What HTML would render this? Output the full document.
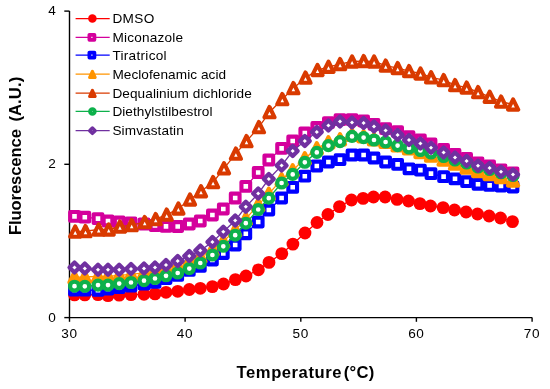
<!DOCTYPE html>
<html lang="en"><head><meta charset="utf-8"><title>Fluorescence vs Temperature</title>
<style>html,body{margin:0;padding:0;background:#fff}svg{display:block}</style></head>
<body><svg width="550" height="389" viewBox="0 0 550 389">
<rect width="550" height="389" fill="#fff"/>
<g stroke="#000" stroke-width="1.4" fill="none">
<path d="M69.5 11V317.6H532.1"/>
<path d="M64.3 11.1H69.5"/>
<path d="M64.3 164.3H69.5"/>
<path d="M64.3 317.6H69.5"/>
<path d="M69.5 317.6V321.8"/>
<path d="M185.1 317.6V321.8"/>
<path d="M300.8 317.6V321.8"/>
<path d="M416.4 317.6V321.8"/>
<path d="M532.1 317.6V321.8"/>
</g>
<g>
<polyline fill="none" stroke="#FF0000" stroke-width="1.30" points="74.5,294.9 84.8,294.9 98.0,294.7 108.0,295.7 119.2,295.1 131.0,294.7 144.0,294.3 155.0,293.9 166.0,292.3 177.7,291.3 189.3,289.5 200.3,288.3 212.4,286.6 223.5,284.0 235.4,279.6 246.0,276.0 258.4,269.8 269.0,262.4 281.8,253.6 292.9,244.1 305.0,233.0 317.0,222.5 327.9,214.5 339.5,206.6 351.5,200.0 363.1,198.4 373.5,197.0 385.1,197.0 397.1,199.4 408.5,201.0 419.9,203.6 430.5,206.0 443.1,207.6 454.5,210.0 466.1,212.0 477.5,214.0 489.1,216.0 500.5,218.0 512.5,221.6"/>
<circle cx="74.5" cy="294.9" r="6.40" fill="#FF0000"/>
<circle cx="84.8" cy="294.9" r="6.40" fill="#FF0000"/>
<circle cx="98.0" cy="294.7" r="6.40" fill="#FF0000"/>
<circle cx="108.0" cy="295.7" r="6.40" fill="#FF0000"/>
<circle cx="119.2" cy="295.1" r="6.40" fill="#FF0000"/>
<circle cx="131.0" cy="294.7" r="6.40" fill="#FF0000"/>
<circle cx="144.0" cy="294.3" r="6.40" fill="#FF0000"/>
<circle cx="155.0" cy="293.9" r="6.40" fill="#FF0000"/>
<circle cx="166.0" cy="292.3" r="6.40" fill="#FF0000"/>
<circle cx="177.7" cy="291.3" r="6.40" fill="#FF0000"/>
<circle cx="189.3" cy="289.5" r="6.40" fill="#FF0000"/>
<circle cx="200.3" cy="288.3" r="6.40" fill="#FF0000"/>
<circle cx="212.4" cy="286.6" r="6.40" fill="#FF0000"/>
<circle cx="223.5" cy="284.0" r="6.40" fill="#FF0000"/>
<circle cx="235.4" cy="279.6" r="6.40" fill="#FF0000"/>
<circle cx="246.0" cy="276.0" r="6.40" fill="#FF0000"/>
<circle cx="258.4" cy="269.8" r="6.40" fill="#FF0000"/>
<circle cx="269.0" cy="262.4" r="6.40" fill="#FF0000"/>
<circle cx="281.8" cy="253.6" r="6.40" fill="#FF0000"/>
<circle cx="292.9" cy="244.1" r="6.40" fill="#FF0000"/>
<circle cx="305.0" cy="233.0" r="6.40" fill="#FF0000"/>
<circle cx="317.0" cy="222.5" r="6.40" fill="#FF0000"/>
<circle cx="327.9" cy="214.5" r="6.40" fill="#FF0000"/>
<circle cx="339.5" cy="206.6" r="6.40" fill="#FF0000"/>
<circle cx="351.5" cy="200.0" r="6.40" fill="#FF0000"/>
<circle cx="363.1" cy="198.4" r="6.40" fill="#FF0000"/>
<circle cx="373.5" cy="197.0" r="6.40" fill="#FF0000"/>
<circle cx="385.1" cy="197.0" r="6.40" fill="#FF0000"/>
<circle cx="397.1" cy="199.4" r="6.40" fill="#FF0000"/>
<circle cx="408.5" cy="201.0" r="6.40" fill="#FF0000"/>
<circle cx="419.9" cy="203.6" r="6.40" fill="#FF0000"/>
<circle cx="430.5" cy="206.0" r="6.40" fill="#FF0000"/>
<circle cx="443.1" cy="207.6" r="6.40" fill="#FF0000"/>
<circle cx="454.5" cy="210.0" r="6.40" fill="#FF0000"/>
<circle cx="466.1" cy="212.0" r="6.40" fill="#FF0000"/>
<circle cx="477.5" cy="214.0" r="6.40" fill="#FF0000"/>
<circle cx="489.1" cy="216.0" r="6.40" fill="#FF0000"/>
<circle cx="500.5" cy="218.0" r="6.40" fill="#FF0000"/>
<circle cx="512.5" cy="221.6" r="6.40" fill="#FF0000"/>
<polyline fill="none" stroke="#D4009C" stroke-width="1.30" points="74.5,216.4 84.8,217.2 98.0,218.6 108.0,221.0 119.2,222.0 131.0,223.0 144.0,224.0 155.0,225.5 166.0,226.4 177.7,226.5 189.3,224.0 200.3,221.0 212.4,215.0 223.3,209.0 235.2,198.0 245.8,186.4 258.2,172.5 268.8,160.0 281.6,148.4 292.7,141.0 304.8,133.0 316.8,127.5 328.4,122.7 340.0,119.7 352.0,119.7 363.6,121.0 374.0,124.3 385.6,128.7 397.6,131.7 409.0,136.7 420.4,140.0 431.0,144.0 443.6,149.5 455.0,154.5 466.6,158.5 478.0,163.0 489.6,166.0 501.0,170.0 513.0,173.0"/>
<rect x="70.15" y="212.05" width="8.70" height="8.70" fill="#fff" stroke="#D4009C" stroke-width="4.10" stroke-linejoin="round"/>
<rect x="80.45" y="212.85" width="8.70" height="8.70" fill="#fff" stroke="#D4009C" stroke-width="4.10" stroke-linejoin="round"/>
<rect x="93.65" y="214.25" width="8.70" height="8.70" fill="#fff" stroke="#D4009C" stroke-width="4.10" stroke-linejoin="round"/>
<rect x="103.65" y="216.65" width="8.70" height="8.70" fill="#fff" stroke="#D4009C" stroke-width="4.10" stroke-linejoin="round"/>
<rect x="114.85" y="217.65" width="8.70" height="8.70" fill="#fff" stroke="#D4009C" stroke-width="4.10" stroke-linejoin="round"/>
<rect x="126.65" y="218.65" width="8.70" height="8.70" fill="#fff" stroke="#D4009C" stroke-width="4.10" stroke-linejoin="round"/>
<rect x="139.65" y="219.65" width="8.70" height="8.70" fill="#fff" stroke="#D4009C" stroke-width="4.10" stroke-linejoin="round"/>
<rect x="150.65" y="221.15" width="8.70" height="8.70" fill="#fff" stroke="#D4009C" stroke-width="4.10" stroke-linejoin="round"/>
<rect x="161.65" y="222.05" width="8.70" height="8.70" fill="#fff" stroke="#D4009C" stroke-width="4.10" stroke-linejoin="round"/>
<rect x="173.35" y="222.15" width="8.70" height="8.70" fill="#fff" stroke="#D4009C" stroke-width="4.10" stroke-linejoin="round"/>
<rect x="184.95" y="219.65" width="8.70" height="8.70" fill="#fff" stroke="#D4009C" stroke-width="4.10" stroke-linejoin="round"/>
<rect x="195.95" y="216.65" width="8.70" height="8.70" fill="#fff" stroke="#D4009C" stroke-width="4.10" stroke-linejoin="round"/>
<rect x="208.05" y="210.65" width="8.70" height="8.70" fill="#fff" stroke="#D4009C" stroke-width="4.10" stroke-linejoin="round"/>
<rect x="218.95" y="204.65" width="8.70" height="8.70" fill="#fff" stroke="#D4009C" stroke-width="4.10" stroke-linejoin="round"/>
<rect x="230.85" y="193.65" width="8.70" height="8.70" fill="#fff" stroke="#D4009C" stroke-width="4.10" stroke-linejoin="round"/>
<rect x="241.45" y="182.05" width="8.70" height="8.70" fill="#fff" stroke="#D4009C" stroke-width="4.10" stroke-linejoin="round"/>
<rect x="253.85" y="168.15" width="8.70" height="8.70" fill="#fff" stroke="#D4009C" stroke-width="4.10" stroke-linejoin="round"/>
<rect x="264.45" y="155.65" width="8.70" height="8.70" fill="#fff" stroke="#D4009C" stroke-width="4.10" stroke-linejoin="round"/>
<rect x="277.25" y="144.05" width="8.70" height="8.70" fill="#fff" stroke="#D4009C" stroke-width="4.10" stroke-linejoin="round"/>
<rect x="288.35" y="136.65" width="8.70" height="8.70" fill="#fff" stroke="#D4009C" stroke-width="4.10" stroke-linejoin="round"/>
<rect x="300.45" y="128.65" width="8.70" height="8.70" fill="#fff" stroke="#D4009C" stroke-width="4.10" stroke-linejoin="round"/>
<rect x="312.45" y="123.15" width="8.70" height="8.70" fill="#fff" stroke="#D4009C" stroke-width="4.10" stroke-linejoin="round"/>
<rect x="324.05" y="118.35" width="8.70" height="8.70" fill="#fff" stroke="#D4009C" stroke-width="4.10" stroke-linejoin="round"/>
<rect x="335.65" y="115.35" width="8.70" height="8.70" fill="#fff" stroke="#D4009C" stroke-width="4.10" stroke-linejoin="round"/>
<rect x="347.65" y="115.35" width="8.70" height="8.70" fill="#fff" stroke="#D4009C" stroke-width="4.10" stroke-linejoin="round"/>
<rect x="359.25" y="116.65" width="8.70" height="8.70" fill="#fff" stroke="#D4009C" stroke-width="4.10" stroke-linejoin="round"/>
<rect x="369.65" y="119.95" width="8.70" height="8.70" fill="#fff" stroke="#D4009C" stroke-width="4.10" stroke-linejoin="round"/>
<rect x="381.25" y="124.35" width="8.70" height="8.70" fill="#fff" stroke="#D4009C" stroke-width="4.10" stroke-linejoin="round"/>
<rect x="393.25" y="127.35" width="8.70" height="8.70" fill="#fff" stroke="#D4009C" stroke-width="4.10" stroke-linejoin="round"/>
<rect x="404.65" y="132.35" width="8.70" height="8.70" fill="#fff" stroke="#D4009C" stroke-width="4.10" stroke-linejoin="round"/>
<rect x="416.05" y="135.65" width="8.70" height="8.70" fill="#fff" stroke="#D4009C" stroke-width="4.10" stroke-linejoin="round"/>
<rect x="426.65" y="139.65" width="8.70" height="8.70" fill="#fff" stroke="#D4009C" stroke-width="4.10" stroke-linejoin="round"/>
<rect x="439.25" y="145.15" width="8.70" height="8.70" fill="#fff" stroke="#D4009C" stroke-width="4.10" stroke-linejoin="round"/>
<rect x="450.65" y="150.15" width="8.70" height="8.70" fill="#fff" stroke="#D4009C" stroke-width="4.10" stroke-linejoin="round"/>
<rect x="462.25" y="154.15" width="8.70" height="8.70" fill="#fff" stroke="#D4009C" stroke-width="4.10" stroke-linejoin="round"/>
<rect x="473.65" y="158.65" width="8.70" height="8.70" fill="#fff" stroke="#D4009C" stroke-width="4.10" stroke-linejoin="round"/>
<rect x="485.25" y="161.65" width="8.70" height="8.70" fill="#fff" stroke="#D4009C" stroke-width="4.10" stroke-linejoin="round"/>
<rect x="496.65" y="165.65" width="8.70" height="8.70" fill="#fff" stroke="#D4009C" stroke-width="4.10" stroke-linejoin="round"/>
<rect x="508.65" y="168.65" width="8.70" height="8.70" fill="#fff" stroke="#D4009C" stroke-width="4.10" stroke-linejoin="round"/>
<polyline fill="none" stroke="#0000FF" stroke-width="1.30" points="74.5,290.0 84.8,290.0 98.0,290.3 108.0,289.0 119.2,287.5 131.0,286.0 144.0,284.0 155.0,282.3 166.0,278.5 177.7,275.3 189.3,270.3 200.3,266.3 212.4,260.0 223.3,253.5 235.2,245.0 245.8,233.8 258.2,222.0 268.8,210.0 281.6,198.0 292.7,187.3 304.8,176.2 316.8,166.0 328.4,162.0 340.0,159.6 352.0,155.0 363.6,155.0 374.0,158.0 385.6,162.0 397.6,164.4 409.0,168.8 420.4,170.1 431.0,173.6 443.6,176.6 455.0,178.8 466.6,181.7 478.0,184.3 489.6,185.4 501.0,186.0 513.0,187.0"/>
<rect x="70.15" y="285.65" width="8.70" height="8.70" fill="#fff" stroke="#0000FF" stroke-width="4.10" stroke-linejoin="round"/>
<rect x="80.45" y="285.65" width="8.70" height="8.70" fill="#fff" stroke="#0000FF" stroke-width="4.10" stroke-linejoin="round"/>
<rect x="93.65" y="285.95" width="8.70" height="8.70" fill="#fff" stroke="#0000FF" stroke-width="4.10" stroke-linejoin="round"/>
<rect x="103.65" y="284.65" width="8.70" height="8.70" fill="#fff" stroke="#0000FF" stroke-width="4.10" stroke-linejoin="round"/>
<rect x="114.85" y="283.15" width="8.70" height="8.70" fill="#fff" stroke="#0000FF" stroke-width="4.10" stroke-linejoin="round"/>
<rect x="126.65" y="281.65" width="8.70" height="8.70" fill="#fff" stroke="#0000FF" stroke-width="4.10" stroke-linejoin="round"/>
<rect x="139.65" y="279.65" width="8.70" height="8.70" fill="#fff" stroke="#0000FF" stroke-width="4.10" stroke-linejoin="round"/>
<rect x="150.65" y="277.95" width="8.70" height="8.70" fill="#fff" stroke="#0000FF" stroke-width="4.10" stroke-linejoin="round"/>
<rect x="161.65" y="274.15" width="8.70" height="8.70" fill="#fff" stroke="#0000FF" stroke-width="4.10" stroke-linejoin="round"/>
<rect x="173.35" y="270.95" width="8.70" height="8.70" fill="#fff" stroke="#0000FF" stroke-width="4.10" stroke-linejoin="round"/>
<rect x="184.95" y="265.95" width="8.70" height="8.70" fill="#fff" stroke="#0000FF" stroke-width="4.10" stroke-linejoin="round"/>
<rect x="195.95" y="261.95" width="8.70" height="8.70" fill="#fff" stroke="#0000FF" stroke-width="4.10" stroke-linejoin="round"/>
<rect x="208.05" y="255.65" width="8.70" height="8.70" fill="#fff" stroke="#0000FF" stroke-width="4.10" stroke-linejoin="round"/>
<rect x="218.95" y="249.15" width="8.70" height="8.70" fill="#fff" stroke="#0000FF" stroke-width="4.10" stroke-linejoin="round"/>
<rect x="230.85" y="240.65" width="8.70" height="8.70" fill="#fff" stroke="#0000FF" stroke-width="4.10" stroke-linejoin="round"/>
<rect x="241.45" y="229.45" width="8.70" height="8.70" fill="#fff" stroke="#0000FF" stroke-width="4.10" stroke-linejoin="round"/>
<rect x="253.85" y="217.65" width="8.70" height="8.70" fill="#fff" stroke="#0000FF" stroke-width="4.10" stroke-linejoin="round"/>
<rect x="264.45" y="205.65" width="8.70" height="8.70" fill="#fff" stroke="#0000FF" stroke-width="4.10" stroke-linejoin="round"/>
<rect x="277.25" y="193.65" width="8.70" height="8.70" fill="#fff" stroke="#0000FF" stroke-width="4.10" stroke-linejoin="round"/>
<rect x="288.35" y="182.95" width="8.70" height="8.70" fill="#fff" stroke="#0000FF" stroke-width="4.10" stroke-linejoin="round"/>
<rect x="300.45" y="171.85" width="8.70" height="8.70" fill="#fff" stroke="#0000FF" stroke-width="4.10" stroke-linejoin="round"/>
<rect x="312.45" y="161.65" width="8.70" height="8.70" fill="#fff" stroke="#0000FF" stroke-width="4.10" stroke-linejoin="round"/>
<rect x="324.05" y="157.65" width="8.70" height="8.70" fill="#fff" stroke="#0000FF" stroke-width="4.10" stroke-linejoin="round"/>
<rect x="335.65" y="155.25" width="8.70" height="8.70" fill="#fff" stroke="#0000FF" stroke-width="4.10" stroke-linejoin="round"/>
<rect x="347.65" y="150.65" width="8.70" height="8.70" fill="#fff" stroke="#0000FF" stroke-width="4.10" stroke-linejoin="round"/>
<rect x="359.25" y="150.65" width="8.70" height="8.70" fill="#fff" stroke="#0000FF" stroke-width="4.10" stroke-linejoin="round"/>
<rect x="369.65" y="153.65" width="8.70" height="8.70" fill="#fff" stroke="#0000FF" stroke-width="4.10" stroke-linejoin="round"/>
<rect x="381.25" y="157.65" width="8.70" height="8.70" fill="#fff" stroke="#0000FF" stroke-width="4.10" stroke-linejoin="round"/>
<rect x="393.25" y="160.05" width="8.70" height="8.70" fill="#fff" stroke="#0000FF" stroke-width="4.10" stroke-linejoin="round"/>
<rect x="404.65" y="164.45" width="8.70" height="8.70" fill="#fff" stroke="#0000FF" stroke-width="4.10" stroke-linejoin="round"/>
<rect x="416.05" y="165.75" width="8.70" height="8.70" fill="#fff" stroke="#0000FF" stroke-width="4.10" stroke-linejoin="round"/>
<rect x="426.65" y="169.25" width="8.70" height="8.70" fill="#fff" stroke="#0000FF" stroke-width="4.10" stroke-linejoin="round"/>
<rect x="439.25" y="172.25" width="8.70" height="8.70" fill="#fff" stroke="#0000FF" stroke-width="4.10" stroke-linejoin="round"/>
<rect x="450.65" y="174.45" width="8.70" height="8.70" fill="#fff" stroke="#0000FF" stroke-width="4.10" stroke-linejoin="round"/>
<rect x="462.25" y="177.35" width="8.70" height="8.70" fill="#fff" stroke="#0000FF" stroke-width="4.10" stroke-linejoin="round"/>
<rect x="473.65" y="179.95" width="8.70" height="8.70" fill="#fff" stroke="#0000FF" stroke-width="4.10" stroke-linejoin="round"/>
<rect x="485.25" y="181.05" width="8.70" height="8.70" fill="#fff" stroke="#0000FF" stroke-width="4.10" stroke-linejoin="round"/>
<rect x="496.65" y="181.65" width="8.70" height="8.70" fill="#fff" stroke="#0000FF" stroke-width="4.10" stroke-linejoin="round"/>
<rect x="508.65" y="182.65" width="8.70" height="8.70" fill="#fff" stroke="#0000FF" stroke-width="4.10" stroke-linejoin="round"/>
<polyline fill="none" stroke="#FF9400" stroke-width="1.30" points="74.5,277.4 84.8,277.0 98.0,276.4 108.0,276.4 119.2,275.4 131.0,274.4 144.0,272.9 155.0,270.9 166.0,268.4 177.7,265.4 189.3,261.4 200.3,256.4 212.4,249.4 223.3,241.4 235.2,230.4 245.8,218.9 258.2,204.9 268.8,193.9 281.6,179.4 292.7,170.4 304.8,158.4 316.8,148.4 328.4,142.4 340.0,139.4 352.0,134.9 363.6,136.4 374.0,139.4 385.6,141.9 397.6,145.4 409.0,148.4 420.4,152.0 431.0,155.6 443.6,159.7 455.0,163.7 466.6,167.5 478.0,171.0 489.6,174.0 501.0,177.0 513.0,180.5"/>
<path d="M74.50 272.20L79.60 282.50L69.40 282.50Z" fill="#FF9400" stroke="#FF9400" stroke-width="4.10" stroke-linejoin="round"/>
<path d="M84.80 271.80L89.90 282.10L79.70 282.10Z" fill="#FF9400" stroke="#FF9400" stroke-width="4.10" stroke-linejoin="round"/>
<path d="M98.00 271.20L103.10 281.50L92.90 281.50Z" fill="#FF9400" stroke="#FF9400" stroke-width="4.10" stroke-linejoin="round"/>
<path d="M108.00 271.20L113.10 281.50L102.90 281.50Z" fill="#FF9400" stroke="#FF9400" stroke-width="4.10" stroke-linejoin="round"/>
<path d="M119.20 270.20L124.30 280.50L114.10 280.50Z" fill="#FF9400" stroke="#FF9400" stroke-width="4.10" stroke-linejoin="round"/>
<path d="M131.00 269.20L136.10 279.50L125.90 279.50Z" fill="#FF9400" stroke="#FF9400" stroke-width="4.10" stroke-linejoin="round"/>
<path d="M144.00 267.70L149.10 278.00L138.90 278.00Z" fill="#FF9400" stroke="#FF9400" stroke-width="4.10" stroke-linejoin="round"/>
<path d="M155.00 265.70L160.10 276.00L149.90 276.00Z" fill="#FF9400" stroke="#FF9400" stroke-width="4.10" stroke-linejoin="round"/>
<path d="M166.00 263.20L171.10 273.50L160.90 273.50Z" fill="#FF9400" stroke="#FF9400" stroke-width="4.10" stroke-linejoin="round"/>
<path d="M177.70 260.20L182.80 270.50L172.60 270.50Z" fill="#FF9400" stroke="#FF9400" stroke-width="4.10" stroke-linejoin="round"/>
<path d="M189.30 256.20L194.40 266.50L184.20 266.50Z" fill="#FF9400" stroke="#FF9400" stroke-width="4.10" stroke-linejoin="round"/>
<path d="M200.30 251.20L205.40 261.50L195.20 261.50Z" fill="#FF9400" stroke="#FF9400" stroke-width="4.10" stroke-linejoin="round"/>
<path d="M212.40 244.20L217.50 254.50L207.30 254.50Z" fill="#FF9400" stroke="#FF9400" stroke-width="4.10" stroke-linejoin="round"/>
<path d="M223.30 236.20L228.40 246.50L218.20 246.50Z" fill="#FF9400" stroke="#FF9400" stroke-width="4.10" stroke-linejoin="round"/>
<path d="M235.20 225.20L240.30 235.50L230.10 235.50Z" fill="#FF9400" stroke="#FF9400" stroke-width="4.10" stroke-linejoin="round"/>
<path d="M245.80 213.70L250.90 224.00L240.70 224.00Z" fill="#FF9400" stroke="#FF9400" stroke-width="4.10" stroke-linejoin="round"/>
<path d="M258.20 199.70L263.30 210.00L253.10 210.00Z" fill="#FF9400" stroke="#FF9400" stroke-width="4.10" stroke-linejoin="round"/>
<path d="M268.80 188.70L273.90 199.00L263.70 199.00Z" fill="#FF9400" stroke="#FF9400" stroke-width="4.10" stroke-linejoin="round"/>
<path d="M281.60 174.20L286.70 184.50L276.50 184.50Z" fill="#FF9400" stroke="#FF9400" stroke-width="4.10" stroke-linejoin="round"/>
<path d="M292.70 165.20L297.80 175.50L287.60 175.50Z" fill="#FF9400" stroke="#FF9400" stroke-width="4.10" stroke-linejoin="round"/>
<path d="M304.80 153.20L309.90 163.50L299.70 163.50Z" fill="#FF9400" stroke="#FF9400" stroke-width="4.10" stroke-linejoin="round"/>
<path d="M316.80 143.20L321.90 153.50L311.70 153.50Z" fill="#FF9400" stroke="#FF9400" stroke-width="4.10" stroke-linejoin="round"/>
<path d="M328.40 137.20L333.50 147.50L323.30 147.50Z" fill="#FF9400" stroke="#FF9400" stroke-width="4.10" stroke-linejoin="round"/>
<path d="M340.00 134.20L345.10 144.50L334.90 144.50Z" fill="#FF9400" stroke="#FF9400" stroke-width="4.10" stroke-linejoin="round"/>
<path d="M352.00 129.70L357.10 140.00L346.90 140.00Z" fill="#FF9400" stroke="#FF9400" stroke-width="4.10" stroke-linejoin="round"/>
<path d="M363.60 131.20L368.70 141.50L358.50 141.50Z" fill="#FF9400" stroke="#FF9400" stroke-width="4.10" stroke-linejoin="round"/>
<path d="M374.00 134.20L379.10 144.50L368.90 144.50Z" fill="#FF9400" stroke="#FF9400" stroke-width="4.10" stroke-linejoin="round"/>
<path d="M385.60 136.70L390.70 147.00L380.50 147.00Z" fill="#FF9400" stroke="#FF9400" stroke-width="4.10" stroke-linejoin="round"/>
<path d="M397.60 140.20L402.70 150.50L392.50 150.50Z" fill="#FF9400" stroke="#FF9400" stroke-width="4.10" stroke-linejoin="round"/>
<path d="M409.00 143.20L414.10 153.50L403.90 153.50Z" fill="#FF9400" stroke="#FF9400" stroke-width="4.10" stroke-linejoin="round"/>
<path d="M420.40 146.80L425.50 157.10L415.30 157.10Z" fill="#FF9400" stroke="#FF9400" stroke-width="4.10" stroke-linejoin="round"/>
<path d="M431.00 150.40L436.10 160.70L425.90 160.70Z" fill="#FF9400" stroke="#FF9400" stroke-width="4.10" stroke-linejoin="round"/>
<path d="M443.60 154.50L448.70 164.80L438.50 164.80Z" fill="#FF9400" stroke="#FF9400" stroke-width="4.10" stroke-linejoin="round"/>
<path d="M455.00 158.50L460.10 168.80L449.90 168.80Z" fill="#FF9400" stroke="#FF9400" stroke-width="4.10" stroke-linejoin="round"/>
<path d="M466.60 162.30L471.70 172.60L461.50 172.60Z" fill="#FF9400" stroke="#FF9400" stroke-width="4.10" stroke-linejoin="round"/>
<path d="M478.00 165.80L483.10 176.10L472.90 176.10Z" fill="#FF9400" stroke="#FF9400" stroke-width="4.10" stroke-linejoin="round"/>
<path d="M489.60 168.80L494.70 179.10L484.50 179.10Z" fill="#FF9400" stroke="#FF9400" stroke-width="4.10" stroke-linejoin="round"/>
<path d="M501.00 171.80L506.10 182.10L495.90 182.10Z" fill="#FF9400" stroke="#FF9400" stroke-width="4.10" stroke-linejoin="round"/>
<path d="M513.00 175.30L518.10 185.60L507.90 185.60Z" fill="#FF9400" stroke="#FF9400" stroke-width="4.10" stroke-linejoin="round"/>
<polyline fill="none" stroke="#D93A00" stroke-width="1.30" points="75.2,231.6 85.5,231.2 98.7,229.5 108.7,229.5 119.9,226.7 131.7,225.2 144.7,222.2 155.7,219.2 166.7,214.7 178.4,208.5 190.0,199.5 201.0,191.3 213.1,182.2 224.0,168.4 235.9,153.7 246.5,141.2 258.9,127.2 269.5,112.2 282.3,99.2 293.4,88.2 305.5,77.7 317.5,70.0 328.5,66.8 340.1,64.2 352.1,61.5 363.7,61.2 374.1,61.5 385.7,65.7 397.7,68.2 409.1,71.2 420.5,73.5 431.1,77.4 443.7,80.2 455.1,85.2 466.7,87.7 478.1,92.2 489.7,96.8 501.1,101.7 513.1,104.5"/>
<path d="M75.20 226.40L80.30 236.70L70.10 236.70Z" fill="#fff" stroke="#D93A00" stroke-width="4.10" stroke-linejoin="round"/>
<path d="M85.50 226.00L90.60 236.30L80.40 236.30Z" fill="#fff" stroke="#D93A00" stroke-width="4.10" stroke-linejoin="round"/>
<path d="M98.70 224.30L103.80 234.60L93.60 234.60Z" fill="#fff" stroke="#D93A00" stroke-width="4.10" stroke-linejoin="round"/>
<path d="M108.70 224.30L113.80 234.60L103.60 234.60Z" fill="#fff" stroke="#D93A00" stroke-width="4.10" stroke-linejoin="round"/>
<path d="M119.90 221.50L125.00 231.80L114.80 231.80Z" fill="#fff" stroke="#D93A00" stroke-width="4.10" stroke-linejoin="round"/>
<path d="M131.70 220.00L136.80 230.30L126.60 230.30Z" fill="#fff" stroke="#D93A00" stroke-width="4.10" stroke-linejoin="round"/>
<path d="M144.70 217.00L149.80 227.30L139.60 227.30Z" fill="#fff" stroke="#D93A00" stroke-width="4.10" stroke-linejoin="round"/>
<path d="M155.70 214.00L160.80 224.30L150.60 224.30Z" fill="#fff" stroke="#D93A00" stroke-width="4.10" stroke-linejoin="round"/>
<path d="M166.70 209.50L171.80 219.80L161.60 219.80Z" fill="#fff" stroke="#D93A00" stroke-width="4.10" stroke-linejoin="round"/>
<path d="M178.40 203.30L183.50 213.60L173.30 213.60Z" fill="#fff" stroke="#D93A00" stroke-width="4.10" stroke-linejoin="round"/>
<path d="M190.00 194.30L195.10 204.60L184.90 204.60Z" fill="#fff" stroke="#D93A00" stroke-width="4.10" stroke-linejoin="round"/>
<path d="M201.00 186.10L206.10 196.40L195.90 196.40Z" fill="#fff" stroke="#D93A00" stroke-width="4.10" stroke-linejoin="round"/>
<path d="M213.10 177.00L218.20 187.30L208.00 187.30Z" fill="#fff" stroke="#D93A00" stroke-width="4.10" stroke-linejoin="round"/>
<path d="M224.00 163.20L229.10 173.50L218.90 173.50Z" fill="#fff" stroke="#D93A00" stroke-width="4.10" stroke-linejoin="round"/>
<path d="M235.90 148.50L241.00 158.80L230.80 158.80Z" fill="#fff" stroke="#D93A00" stroke-width="4.10" stroke-linejoin="round"/>
<path d="M246.50 136.00L251.60 146.30L241.40 146.30Z" fill="#fff" stroke="#D93A00" stroke-width="4.10" stroke-linejoin="round"/>
<path d="M258.90 122.00L264.00 132.30L253.80 132.30Z" fill="#fff" stroke="#D93A00" stroke-width="4.10" stroke-linejoin="round"/>
<path d="M269.50 107.00L274.60 117.30L264.40 117.30Z" fill="#fff" stroke="#D93A00" stroke-width="4.10" stroke-linejoin="round"/>
<path d="M282.30 94.00L287.40 104.30L277.20 104.30Z" fill="#fff" stroke="#D93A00" stroke-width="4.10" stroke-linejoin="round"/>
<path d="M293.40 83.00L298.50 93.30L288.30 93.30Z" fill="#fff" stroke="#D93A00" stroke-width="4.10" stroke-linejoin="round"/>
<path d="M305.50 72.50L310.60 82.80L300.40 82.80Z" fill="#fff" stroke="#D93A00" stroke-width="4.10" stroke-linejoin="round"/>
<path d="M317.50 64.80L322.60 75.10L312.40 75.10Z" fill="#fff" stroke="#D93A00" stroke-width="4.10" stroke-linejoin="round"/>
<path d="M328.50 61.60L333.60 71.90L323.40 71.90Z" fill="#fff" stroke="#D93A00" stroke-width="4.10" stroke-linejoin="round"/>
<path d="M340.10 59.00L345.20 69.30L335.00 69.30Z" fill="#fff" stroke="#D93A00" stroke-width="4.10" stroke-linejoin="round"/>
<path d="M352.10 56.30L357.20 66.60L347.00 66.60Z" fill="#fff" stroke="#D93A00" stroke-width="4.10" stroke-linejoin="round"/>
<path d="M363.70 56.00L368.80 66.30L358.60 66.30Z" fill="#fff" stroke="#D93A00" stroke-width="4.10" stroke-linejoin="round"/>
<path d="M374.10 56.30L379.20 66.60L369.00 66.60Z" fill="#fff" stroke="#D93A00" stroke-width="4.10" stroke-linejoin="round"/>
<path d="M385.70 60.50L390.80 70.80L380.60 70.80Z" fill="#fff" stroke="#D93A00" stroke-width="4.10" stroke-linejoin="round"/>
<path d="M397.70 63.00L402.80 73.30L392.60 73.30Z" fill="#fff" stroke="#D93A00" stroke-width="4.10" stroke-linejoin="round"/>
<path d="M409.10 66.00L414.20 76.30L404.00 76.30Z" fill="#fff" stroke="#D93A00" stroke-width="4.10" stroke-linejoin="round"/>
<path d="M420.50 68.30L425.60 78.60L415.40 78.60Z" fill="#fff" stroke="#D93A00" stroke-width="4.10" stroke-linejoin="round"/>
<path d="M431.10 72.20L436.20 82.50L426.00 82.50Z" fill="#fff" stroke="#D93A00" stroke-width="4.10" stroke-linejoin="round"/>
<path d="M443.70 75.00L448.80 85.30L438.60 85.30Z" fill="#fff" stroke="#D93A00" stroke-width="4.10" stroke-linejoin="round"/>
<path d="M455.10 80.00L460.20 90.30L450.00 90.30Z" fill="#fff" stroke="#D93A00" stroke-width="4.10" stroke-linejoin="round"/>
<path d="M466.70 82.50L471.80 92.80L461.60 92.80Z" fill="#fff" stroke="#D93A00" stroke-width="4.10" stroke-linejoin="round"/>
<path d="M478.10 87.00L483.20 97.30L473.00 97.30Z" fill="#fff" stroke="#D93A00" stroke-width="4.10" stroke-linejoin="round"/>
<path d="M489.70 91.60L494.80 101.90L484.60 101.90Z" fill="#fff" stroke="#D93A00" stroke-width="4.10" stroke-linejoin="round"/>
<path d="M501.10 96.50L506.20 106.80L496.00 106.80Z" fill="#fff" stroke="#D93A00" stroke-width="4.10" stroke-linejoin="round"/>
<path d="M513.10 99.30L518.20 109.60L508.00 109.60Z" fill="#fff" stroke="#D93A00" stroke-width="4.10" stroke-linejoin="round"/>
<polyline fill="none" stroke="#0DB14B" stroke-width="1.30" points="74.5,286.2 84.8,286.3 98.0,285.1 108.0,285.1 119.2,283.6 131.0,282.5 144.0,280.7 155.0,278.5 166.0,275.8 177.7,273.0 189.3,268.6 200.3,263.0 212.4,255.0 223.3,246.3 235.2,235.2 245.8,223.2 258.2,209.5 268.8,198.2 281.6,183.0 292.7,174.4 304.8,162.3 316.8,152.4 328.4,145.6 340.0,141.6 352.0,136.4 363.6,137.6 374.0,140.0 385.6,142.0 397.6,145.6 409.0,148.0 420.4,150.5 431.0,153.0 443.6,156.5 455.0,160.0 466.6,163.0 478.0,167.0 489.6,169.5 501.0,172.8 513.0,175.5"/>
<circle cx="74.5" cy="286.2" r="4.45" fill="#fff" stroke="#0DB14B" stroke-width="4.20"/>
<circle cx="84.8" cy="286.3" r="4.45" fill="#fff" stroke="#0DB14B" stroke-width="4.20"/>
<circle cx="98.0" cy="285.1" r="4.45" fill="#fff" stroke="#0DB14B" stroke-width="4.20"/>
<circle cx="108.0" cy="285.1" r="4.45" fill="#fff" stroke="#0DB14B" stroke-width="4.20"/>
<circle cx="119.2" cy="283.6" r="4.45" fill="#fff" stroke="#0DB14B" stroke-width="4.20"/>
<circle cx="131.0" cy="282.5" r="4.45" fill="#fff" stroke="#0DB14B" stroke-width="4.20"/>
<circle cx="144.0" cy="280.7" r="4.45" fill="#fff" stroke="#0DB14B" stroke-width="4.20"/>
<circle cx="155.0" cy="278.5" r="4.45" fill="#fff" stroke="#0DB14B" stroke-width="4.20"/>
<circle cx="166.0" cy="275.8" r="4.45" fill="#fff" stroke="#0DB14B" stroke-width="4.20"/>
<circle cx="177.7" cy="273.0" r="4.45" fill="#fff" stroke="#0DB14B" stroke-width="4.20"/>
<circle cx="189.3" cy="268.6" r="4.45" fill="#fff" stroke="#0DB14B" stroke-width="4.20"/>
<circle cx="200.3" cy="263.0" r="4.45" fill="#fff" stroke="#0DB14B" stroke-width="4.20"/>
<circle cx="212.4" cy="255.0" r="4.45" fill="#fff" stroke="#0DB14B" stroke-width="4.20"/>
<circle cx="223.3" cy="246.3" r="4.45" fill="#fff" stroke="#0DB14B" stroke-width="4.20"/>
<circle cx="235.2" cy="235.2" r="4.45" fill="#fff" stroke="#0DB14B" stroke-width="4.20"/>
<circle cx="245.8" cy="223.2" r="4.45" fill="#fff" stroke="#0DB14B" stroke-width="4.20"/>
<circle cx="258.2" cy="209.5" r="4.45" fill="#fff" stroke="#0DB14B" stroke-width="4.20"/>
<circle cx="268.8" cy="198.2" r="4.45" fill="#fff" stroke="#0DB14B" stroke-width="4.20"/>
<circle cx="281.6" cy="183.0" r="4.45" fill="#fff" stroke="#0DB14B" stroke-width="4.20"/>
<circle cx="292.7" cy="174.4" r="4.45" fill="#fff" stroke="#0DB14B" stroke-width="4.20"/>
<circle cx="304.8" cy="162.3" r="4.45" fill="#fff" stroke="#0DB14B" stroke-width="4.20"/>
<circle cx="316.8" cy="152.4" r="4.45" fill="#fff" stroke="#0DB14B" stroke-width="4.20"/>
<circle cx="328.4" cy="145.6" r="4.45" fill="#fff" stroke="#0DB14B" stroke-width="4.20"/>
<circle cx="340.0" cy="141.6" r="4.45" fill="#fff" stroke="#0DB14B" stroke-width="4.20"/>
<circle cx="352.0" cy="136.4" r="4.45" fill="#fff" stroke="#0DB14B" stroke-width="4.20"/>
<circle cx="363.6" cy="137.6" r="4.45" fill="#fff" stroke="#0DB14B" stroke-width="4.20"/>
<circle cx="374.0" cy="140.0" r="4.45" fill="#fff" stroke="#0DB14B" stroke-width="4.20"/>
<circle cx="385.6" cy="142.0" r="4.45" fill="#fff" stroke="#0DB14B" stroke-width="4.20"/>
<circle cx="397.6" cy="145.6" r="4.45" fill="#fff" stroke="#0DB14B" stroke-width="4.20"/>
<circle cx="409.0" cy="148.0" r="4.45" fill="#fff" stroke="#0DB14B" stroke-width="4.20"/>
<circle cx="420.4" cy="150.5" r="4.45" fill="#fff" stroke="#0DB14B" stroke-width="4.20"/>
<circle cx="431.0" cy="153.0" r="4.45" fill="#fff" stroke="#0DB14B" stroke-width="4.20"/>
<circle cx="443.6" cy="156.5" r="4.45" fill="#fff" stroke="#0DB14B" stroke-width="4.20"/>
<circle cx="455.0" cy="160.0" r="4.45" fill="#fff" stroke="#0DB14B" stroke-width="4.20"/>
<circle cx="466.6" cy="163.0" r="4.45" fill="#fff" stroke="#0DB14B" stroke-width="4.20"/>
<circle cx="478.0" cy="167.0" r="4.45" fill="#fff" stroke="#0DB14B" stroke-width="4.20"/>
<circle cx="489.6" cy="169.5" r="4.45" fill="#fff" stroke="#0DB14B" stroke-width="4.20"/>
<circle cx="501.0" cy="172.8" r="4.45" fill="#fff" stroke="#0DB14B" stroke-width="4.20"/>
<circle cx="513.0" cy="175.5" r="4.45" fill="#fff" stroke="#0DB14B" stroke-width="4.20"/>
<polyline fill="none" stroke="#7030A0" stroke-width="1.30" points="74.5,267.5 84.8,268.6 98.0,269.8 108.0,269.8 119.2,269.7 131.0,269.0 144.0,268.6 155.0,267.4 166.0,265.0 177.7,261.0 189.3,256.0 200.3,250.6 212.4,242.0 223.3,231.7 235.2,220.5 245.8,206.8 258.2,193.6 268.8,179.0 281.6,165.6 292.7,151.0 304.8,141.0 316.8,132.0 328.4,125.6 340.0,121.6 352.0,122.4 363.6,123.0 374.0,126.4 385.6,130.4 397.6,135.0 409.0,140.0 420.4,143.4 431.0,147.8 443.6,152.6 455.0,157.6 466.6,160.9 478.0,165.7 489.6,168.1 501.0,171.8 513.0,174.6"/>
<path d="M74.50 262.50L79.50 267.50L74.50 272.50L69.50 267.50Z" fill="#fff" stroke="#7030A0" stroke-width="4.20" stroke-linejoin="round"/>
<path d="M84.80 263.60L89.80 268.60L84.80 273.60L79.80 268.60Z" fill="#fff" stroke="#7030A0" stroke-width="4.20" stroke-linejoin="round"/>
<path d="M98.00 264.80L103.00 269.80L98.00 274.80L93.00 269.80Z" fill="#fff" stroke="#7030A0" stroke-width="4.20" stroke-linejoin="round"/>
<path d="M108.00 264.80L113.00 269.80L108.00 274.80L103.00 269.80Z" fill="#fff" stroke="#7030A0" stroke-width="4.20" stroke-linejoin="round"/>
<path d="M119.20 264.70L124.20 269.70L119.20 274.70L114.20 269.70Z" fill="#fff" stroke="#7030A0" stroke-width="4.20" stroke-linejoin="round"/>
<path d="M131.00 264.00L136.00 269.00L131.00 274.00L126.00 269.00Z" fill="#fff" stroke="#7030A0" stroke-width="4.20" stroke-linejoin="round"/>
<path d="M144.00 263.60L149.00 268.60L144.00 273.60L139.00 268.60Z" fill="#fff" stroke="#7030A0" stroke-width="4.20" stroke-linejoin="round"/>
<path d="M155.00 262.40L160.00 267.40L155.00 272.40L150.00 267.40Z" fill="#fff" stroke="#7030A0" stroke-width="4.20" stroke-linejoin="round"/>
<path d="M166.00 260.00L171.00 265.00L166.00 270.00L161.00 265.00Z" fill="#fff" stroke="#7030A0" stroke-width="4.20" stroke-linejoin="round"/>
<path d="M177.70 256.00L182.70 261.00L177.70 266.00L172.70 261.00Z" fill="#fff" stroke="#7030A0" stroke-width="4.20" stroke-linejoin="round"/>
<path d="M189.30 251.00L194.30 256.00L189.30 261.00L184.30 256.00Z" fill="#fff" stroke="#7030A0" stroke-width="4.20" stroke-linejoin="round"/>
<path d="M200.30 245.60L205.30 250.60L200.30 255.60L195.30 250.60Z" fill="#fff" stroke="#7030A0" stroke-width="4.20" stroke-linejoin="round"/>
<path d="M212.40 237.00L217.40 242.00L212.40 247.00L207.40 242.00Z" fill="#fff" stroke="#7030A0" stroke-width="4.20" stroke-linejoin="round"/>
<path d="M223.30 226.70L228.30 231.70L223.30 236.70L218.30 231.70Z" fill="#fff" stroke="#7030A0" stroke-width="4.20" stroke-linejoin="round"/>
<path d="M235.20 215.50L240.20 220.50L235.20 225.50L230.20 220.50Z" fill="#fff" stroke="#7030A0" stroke-width="4.20" stroke-linejoin="round"/>
<path d="M245.80 201.80L250.80 206.80L245.80 211.80L240.80 206.80Z" fill="#fff" stroke="#7030A0" stroke-width="4.20" stroke-linejoin="round"/>
<path d="M258.20 188.60L263.20 193.60L258.20 198.60L253.20 193.60Z" fill="#fff" stroke="#7030A0" stroke-width="4.20" stroke-linejoin="round"/>
<path d="M268.80 174.00L273.80 179.00L268.80 184.00L263.80 179.00Z" fill="#fff" stroke="#7030A0" stroke-width="4.20" stroke-linejoin="round"/>
<path d="M281.60 160.60L286.60 165.60L281.60 170.60L276.60 165.60Z" fill="#fff" stroke="#7030A0" stroke-width="4.20" stroke-linejoin="round"/>
<path d="M292.70 146.00L297.70 151.00L292.70 156.00L287.70 151.00Z" fill="#fff" stroke="#7030A0" stroke-width="4.20" stroke-linejoin="round"/>
<path d="M304.80 136.00L309.80 141.00L304.80 146.00L299.80 141.00Z" fill="#fff" stroke="#7030A0" stroke-width="4.20" stroke-linejoin="round"/>
<path d="M316.80 127.00L321.80 132.00L316.80 137.00L311.80 132.00Z" fill="#fff" stroke="#7030A0" stroke-width="4.20" stroke-linejoin="round"/>
<path d="M328.40 120.60L333.40 125.60L328.40 130.60L323.40 125.60Z" fill="#fff" stroke="#7030A0" stroke-width="4.20" stroke-linejoin="round"/>
<path d="M340.00 116.60L345.00 121.60L340.00 126.60L335.00 121.60Z" fill="#fff" stroke="#7030A0" stroke-width="4.20" stroke-linejoin="round"/>
<path d="M352.00 117.40L357.00 122.40L352.00 127.40L347.00 122.40Z" fill="#fff" stroke="#7030A0" stroke-width="4.20" stroke-linejoin="round"/>
<path d="M363.60 118.00L368.60 123.00L363.60 128.00L358.60 123.00Z" fill="#fff" stroke="#7030A0" stroke-width="4.20" stroke-linejoin="round"/>
<path d="M374.00 121.40L379.00 126.40L374.00 131.40L369.00 126.40Z" fill="#fff" stroke="#7030A0" stroke-width="4.20" stroke-linejoin="round"/>
<path d="M385.60 125.40L390.60 130.40L385.60 135.40L380.60 130.40Z" fill="#fff" stroke="#7030A0" stroke-width="4.20" stroke-linejoin="round"/>
<path d="M397.60 130.00L402.60 135.00L397.60 140.00L392.60 135.00Z" fill="#fff" stroke="#7030A0" stroke-width="4.20" stroke-linejoin="round"/>
<path d="M409.00 135.00L414.00 140.00L409.00 145.00L404.00 140.00Z" fill="#fff" stroke="#7030A0" stroke-width="4.20" stroke-linejoin="round"/>
<path d="M420.40 138.40L425.40 143.40L420.40 148.40L415.40 143.40Z" fill="#fff" stroke="#7030A0" stroke-width="4.20" stroke-linejoin="round"/>
<path d="M431.00 142.80L436.00 147.80L431.00 152.80L426.00 147.80Z" fill="#fff" stroke="#7030A0" stroke-width="4.20" stroke-linejoin="round"/>
<path d="M443.60 147.60L448.60 152.60L443.60 157.60L438.60 152.60Z" fill="#fff" stroke="#7030A0" stroke-width="4.20" stroke-linejoin="round"/>
<path d="M455.00 152.60L460.00 157.60L455.00 162.60L450.00 157.60Z" fill="#fff" stroke="#7030A0" stroke-width="4.20" stroke-linejoin="round"/>
<path d="M466.60 155.90L471.60 160.90L466.60 165.90L461.60 160.90Z" fill="#fff" stroke="#7030A0" stroke-width="4.20" stroke-linejoin="round"/>
<path d="M478.00 160.70L483.00 165.70L478.00 170.70L473.00 165.70Z" fill="#fff" stroke="#7030A0" stroke-width="4.20" stroke-linejoin="round"/>
<path d="M489.60 163.10L494.60 168.10L489.60 173.10L484.60 168.10Z" fill="#fff" stroke="#7030A0" stroke-width="4.20" stroke-linejoin="round"/>
<path d="M501.00 166.80L506.00 171.80L501.00 176.80L496.00 171.80Z" fill="#fff" stroke="#7030A0" stroke-width="4.20" stroke-linejoin="round"/>
<path d="M513.00 169.60L518.00 174.60L513.00 179.60L508.00 174.60Z" fill="#fff" stroke="#7030A0" stroke-width="4.20" stroke-linejoin="round"/>
</g>
<g font-family="'Liberation Sans', Arial, sans-serif" font-size="13.6" fill="#000">
<text x="55.9" y="15.0" text-anchor="end">4</text>
<text x="55.9" y="168.2" text-anchor="end">2</text>
<text x="55.9" y="321.5" text-anchor="end">0</text>
<text x="69.4" y="337.6" text-anchor="middle" letter-spacing="0.6">30</text>
<text x="185.0" y="337.6" text-anchor="middle" letter-spacing="0.6">40</text>
<text x="300.7" y="337.6" text-anchor="middle" letter-spacing="0.6">50</text>
<text x="416.3" y="337.6" text-anchor="middle" letter-spacing="0.6">60</text>
<text x="532.0" y="337.6" text-anchor="middle" letter-spacing="0.6">70</text>
<text x="112.4" y="23.1" letter-spacing="0.370">DMSO</text>
<text x="112.4" y="41.8" letter-spacing="0.200">Miconazole</text>
<text x="112.4" y="59.6" letter-spacing="0.290">Tiratricol</text>
<text x="112.4" y="78.7" letter-spacing="0.070">Meclofenamic acid</text>
<text x="112.4" y="97.7" letter-spacing="0.086">Dequalinium dichloride</text>
<text x="112.4" y="115.9" letter-spacing="0.065">Diethylstilbestrol</text>
<text x="112.4" y="135.2" letter-spacing="0.110">Simvastatin</text>
</g>
<path d="M75.6 18.6H109.7" stroke="#FF0000" stroke-width="1.3"/>
<circle cx="92.4" cy="18.6" r="4.25" fill="#FF0000"/>
<path d="M75.6 37.3H109.7" stroke="#D4009C" stroke-width="1.3"/>
<rect x="89.40" y="34.80" width="5.00" height="5.00" fill="#fff" stroke="#D4009C" stroke-width="3.80" stroke-linejoin="round"/>
<path d="M75.6 55.1H109.7" stroke="#0000FF" stroke-width="1.3"/>
<rect x="89.40" y="52.60" width="5.00" height="5.00" fill="#fff" stroke="#0000FF" stroke-width="3.80" stroke-linejoin="round"/>
<path d="M75.6 74.2H109.7" stroke="#FF9400" stroke-width="1.3"/>
<path d="M92.40 71.60L95.00 77.40L89.80 77.40Z" fill="#fff" stroke="#FF9400" stroke-width="3.40" stroke-linejoin="round"/>
<path d="M75.6 93.2H109.7" stroke="#D93A00" stroke-width="1.3"/>
<path d="M92.40 90.60L95.00 96.40L89.80 96.40Z" fill="#fff" stroke="#D93A00" stroke-width="3.40" stroke-linejoin="round"/>
<path d="M75.6 111.4H109.7" stroke="#0DB14B" stroke-width="1.3"/>
<circle cx="92.4" cy="111.4" r="2.30" fill="#fff" stroke="#0DB14B" stroke-width="3.90"/>
<path d="M75.6 130.7H109.7" stroke="#7030A0" stroke-width="1.3"/>
<path d="M92.40 128.00L95.10 130.70L92.40 133.40L89.70 130.70Z" fill="#fff" stroke="#7030A0" stroke-width="3.40" stroke-linejoin="round"/>
<g font-family="'Liberation Sans', Arial, sans-serif" font-weight="bold" font-size="16.6" fill="#000">
<text y="377.5"><tspan x="236.6" letter-spacing="0.55">Temperature</tspan> <tspan x="343.7" letter-spacing="0.3">(°C)</tspan></text>
<text transform="translate(21.2 156) rotate(-90)"><tspan x="-79.0" letter-spacing="-0.1">Fluorescence</tspan> <tspan x="34.4" letter-spacing="0.11">(A.U.)</tspan></text>
</g>
</svg></body></html>
